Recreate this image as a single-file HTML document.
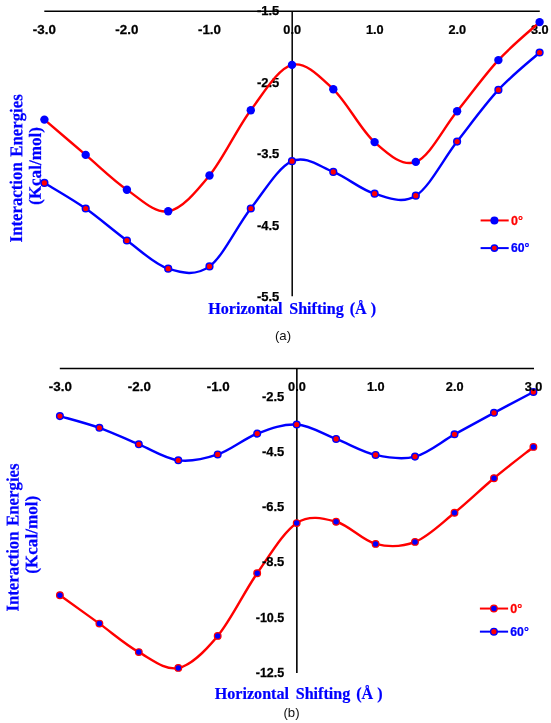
<!DOCTYPE html><html><head><meta charset="utf-8"><title>Interaction Energies</title>
<style>html,body{margin:0;padding:0;background:#fff}svg{display:block}.t{font-family:"Liberation Sans",sans-serif;font-weight:bold;font-size:13px;fill:#000;stroke:#000;stroke-width:0.25px}.s{font-family:"Liberation Serif",serif;font-weight:bold;fill:#0000ff;stroke:#0000ff;stroke-width:0.2px}.c{font-family:"Liberation Sans",sans-serif;font-size:12px;fill:#111}</style></head><body>
<svg width="551" height="723" viewBox="0 0 551 723">
<rect width="551" height="723" fill="#fff"/>
<line x1="44.3" y1="11.25" x2="539.8" y2="11.25" stroke="#000" stroke-width="1.5"/>
<line x1="292.2" y1="11" x2="292.2" y2="296.2" stroke="#000" stroke-width="1.5"/>
<text class="t" transform="translate(44.4,33.8) scale(1.03,1)" text-anchor="middle">-3.0</text>
<text class="t" transform="translate(126.9,33.8) scale(1.03,1)" text-anchor="middle">-2.0</text>
<text class="t" transform="translate(209.5,33.8) scale(1.03,1)" text-anchor="middle">-1.0</text>
<text class="t" transform="translate(292.2,33.8) scale(0.98,1)" text-anchor="middle">0.0</text>
<text class="t" transform="translate(374.8,33.8) scale(0.98,1)" text-anchor="middle">1.0</text>
<text class="t" transform="translate(457.3,33.8) scale(0.98,1)" text-anchor="middle">2.0</text>
<text class="t" transform="translate(539.8,33.8) scale(0.98,1)" text-anchor="middle">3.0</text>
<text class="t" transform="translate(279.3,14.9) scale(1.0,1)" text-anchor="end">-1.5</text>
<text class="t" transform="translate(279.3,86.5) scale(1.0,1)" text-anchor="end">-2.5</text>
<text class="t" transform="translate(279.3,158.0) scale(1.0,1)" text-anchor="end">-3.5</text>
<text class="t" transform="translate(279.3,229.5) scale(1.0,1)" text-anchor="end">-4.5</text>
<text class="t" transform="translate(279.3,301.1) scale(1.0,1)" text-anchor="end">-5.5</text>
<path d="M44.40,182.90 C51.28,187.17 71.91,198.90 85.67,208.50 C99.43,218.10 113.18,230.47 126.94,240.50 C140.70,250.53 154.45,264.38 168.21,268.70 C181.97,273.02 195.72,276.43 209.48,266.40 C223.24,256.37 236.99,226.03 250.75,208.50 C264.51,190.97 278.26,167.30 292.02,161.20 C305.78,155.10 319.53,166.48 333.29,171.90 C347.05,177.32 360.80,189.73 374.56,193.70 C388.32,197.67 402.07,204.38 415.83,195.70 C429.59,187.02 443.34,159.23 457.10,141.60 C470.86,123.97 484.61,104.75 498.37,89.90 C512.13,75.05 532.76,58.73 539.64,52.50" fill="none" stroke="#0000ff" stroke-width="2.4" stroke-linecap="round" stroke-linejoin="round"/>
<path d="M44.40,119.60 C51.28,125.48 71.91,143.22 85.67,154.90 C99.43,166.58 113.18,180.30 126.94,189.70 C140.70,199.10 154.45,213.67 168.21,211.30 C181.97,208.93 195.72,192.35 209.48,175.50 C223.24,158.65 236.99,128.63 250.75,110.20 C264.51,91.77 278.26,68.38 292.02,64.90 C305.78,61.42 319.53,76.43 333.29,89.30 C347.05,102.17 360.80,130.00 374.56,142.10 C388.32,154.20 402.07,167.03 415.83,161.90 C429.59,156.77 443.34,128.27 457.10,111.30 C470.86,94.33 484.61,74.97 498.37,60.10 C512.13,45.23 532.76,28.43 539.64,22.10" fill="none" stroke="#ff0000" stroke-width="2.4" stroke-linecap="round" stroke-linejoin="round"/>
<circle cx="44.4" cy="182.9" r="3.35" fill="#ff0000" stroke="#0000ff" stroke-width="1.5"/>
<circle cx="85.7" cy="208.5" r="3.35" fill="#ff0000" stroke="#0000ff" stroke-width="1.5"/>
<circle cx="126.9" cy="240.5" r="3.35" fill="#ff0000" stroke="#0000ff" stroke-width="1.5"/>
<circle cx="168.2" cy="268.7" r="3.35" fill="#ff0000" stroke="#0000ff" stroke-width="1.5"/>
<circle cx="209.5" cy="266.4" r="3.35" fill="#ff0000" stroke="#0000ff" stroke-width="1.5"/>
<circle cx="250.8" cy="208.5" r="3.35" fill="#ff0000" stroke="#0000ff" stroke-width="1.5"/>
<circle cx="292.0" cy="161.2" r="3.35" fill="#ff0000" stroke="#0000ff" stroke-width="1.5"/>
<circle cx="333.3" cy="171.9" r="3.35" fill="#ff0000" stroke="#0000ff" stroke-width="1.5"/>
<circle cx="374.6" cy="193.7" r="3.35" fill="#ff0000" stroke="#0000ff" stroke-width="1.5"/>
<circle cx="415.8" cy="195.7" r="3.35" fill="#ff0000" stroke="#0000ff" stroke-width="1.5"/>
<circle cx="457.1" cy="141.6" r="3.35" fill="#ff0000" stroke="#0000ff" stroke-width="1.5"/>
<circle cx="498.4" cy="89.9" r="3.35" fill="#ff0000" stroke="#0000ff" stroke-width="1.5"/>
<circle cx="539.6" cy="52.5" r="3.35" fill="#ff0000" stroke="#0000ff" stroke-width="1.5"/>
<circle cx="44.4" cy="119.6" r="4.2" fill="#0000ff"/>
<circle cx="85.7" cy="154.9" r="4.2" fill="#0000ff"/>
<circle cx="126.9" cy="189.7" r="4.2" fill="#0000ff"/>
<circle cx="168.2" cy="211.3" r="4.2" fill="#0000ff"/>
<circle cx="209.5" cy="175.5" r="4.2" fill="#0000ff"/>
<circle cx="250.8" cy="110.2" r="4.2" fill="#0000ff"/>
<circle cx="292.0" cy="64.9" r="4.2" fill="#0000ff"/>
<circle cx="333.3" cy="89.3" r="4.2" fill="#0000ff"/>
<circle cx="374.6" cy="142.1" r="4.2" fill="#0000ff"/>
<circle cx="415.8" cy="161.9" r="4.2" fill="#0000ff"/>
<circle cx="457.1" cy="111.3" r="4.2" fill="#0000ff"/>
<circle cx="498.4" cy="60.1" r="4.2" fill="#0000ff"/>
<circle cx="539.6" cy="22.1" r="4.2" fill="#0000ff"/>
<line x1="480.6" y1="220.45" x2="508.7" y2="220.45" stroke="#ff0000" stroke-width="2.0"/>
<circle cx="494.4" cy="220.45" r="4.05" fill="#0000ff"/>
<text class="t" transform="translate(511,224.5) scale(0.96,1)" style="fill:#ff0000;stroke:#ff0000">0°</text>
<line x1="480.6" y1="248.1" x2="508.7" y2="248.1" stroke="#0000ff" stroke-width="2.0"/>
<circle cx="494.4" cy="248.1" r="3.15" fill="#ff0000" stroke="#0000ff" stroke-width="1.45"/>
<text class="t" transform="translate(511,252.2) scale(0.94,1)" style="fill:#0000ff;stroke:#0000ff">60°</text>
<text class="s" font-size="16.1" transform="translate(208.3,314) scale(1,1.06)"><tspan x="0">Horizontal</tspan> <tspan x="80.9">Shifting</tspan> <tspan x="141.4">(Å )</tspan></text>
<text class="s" font-size="16.8" transform="translate(22.0,242.4) rotate(-89.9) scale(1,1.07)"><tspan x="0">Interaction</tspan> <tspan x="85.7">Energies</tspan></text>
<text class="s" font-size="16.5" text-anchor="middle" transform="translate(40.9,166.0) rotate(-89.9) scale(1.04,1.06)">(Kcal/mol)</text>
<text class="c" transform="translate(283,339.8) scale(1.1,1)" text-anchor="middle">(a)</text>
<line x1="59.8" y1="368.5" x2="534" y2="368.5" stroke="#000" stroke-width="1.5"/>
<line x1="296.85" y1="368.3" x2="296.85" y2="673" stroke="#000" stroke-width="1.6"/>
<path d="M59.90,595.25 C66.48,599.98 86.21,614.17 99.36,623.65 C112.51,633.13 125.67,644.77 138.82,652.15 C151.97,659.53 165.13,670.65 178.28,667.95 C191.43,665.25 204.59,651.73 217.74,635.95 C230.89,620.17 244.05,592.05 257.20,573.25 C270.35,554.45 283.51,531.73 296.66,523.15 C309.81,514.57 322.97,518.30 336.12,521.75 C349.27,525.20 362.43,540.50 375.58,543.85 C388.73,547.20 401.89,547.03 415.04,541.85 C428.19,536.67 441.35,523.35 454.50,512.75 C467.65,502.15 480.81,489.22 493.96,478.25 C507.11,467.28 526.84,452.17 533.42,446.95" fill="none" stroke="#ff0000" stroke-width="2.4" stroke-linecap="round" stroke-linejoin="round"/>
<path d="M59.90,416.15 C66.48,418.10 86.21,423.15 99.36,427.85 C112.51,432.55 125.67,438.93 138.82,444.35 C151.97,449.77 165.13,458.67 178.28,460.35 C191.43,462.03 204.59,458.90 217.74,454.45 C230.89,450.00 244.05,438.63 257.20,433.65 C270.35,428.67 283.51,423.67 296.66,424.55 C309.81,425.43 322.97,433.88 336.12,438.95 C349.27,444.02 362.43,452.00 375.58,454.95 C388.73,457.90 401.89,460.08 415.04,456.65 C428.19,453.22 441.35,441.65 454.50,434.35 C467.65,427.05 480.81,419.92 493.96,412.85 C507.11,405.78 526.84,395.43 533.42,391.95" fill="none" stroke="#0000ff" stroke-width="2.4" stroke-linecap="round" stroke-linejoin="round"/>
<circle cx="59.9" cy="595.2" r="3.35" fill="#0000ff" stroke="#ff0000" stroke-width="1.2"/>
<circle cx="99.4" cy="623.6" r="3.35" fill="#0000ff" stroke="#ff0000" stroke-width="1.2"/>
<circle cx="138.8" cy="652.1" r="3.35" fill="#0000ff" stroke="#ff0000" stroke-width="1.2"/>
<circle cx="178.3" cy="667.9" r="3.35" fill="#0000ff" stroke="#ff0000" stroke-width="1.2"/>
<circle cx="217.7" cy="635.9" r="3.35" fill="#0000ff" stroke="#ff0000" stroke-width="1.2"/>
<circle cx="257.2" cy="573.2" r="3.35" fill="#0000ff" stroke="#ff0000" stroke-width="1.2"/>
<circle cx="296.7" cy="523.1" r="3.35" fill="#0000ff" stroke="#ff0000" stroke-width="1.2"/>
<circle cx="336.1" cy="521.8" r="3.35" fill="#0000ff" stroke="#ff0000" stroke-width="1.2"/>
<circle cx="375.6" cy="543.9" r="3.35" fill="#0000ff" stroke="#ff0000" stroke-width="1.2"/>
<circle cx="415.0" cy="541.9" r="3.35" fill="#0000ff" stroke="#ff0000" stroke-width="1.2"/>
<circle cx="454.5" cy="512.8" r="3.35" fill="#0000ff" stroke="#ff0000" stroke-width="1.2"/>
<circle cx="494.0" cy="478.2" r="3.35" fill="#0000ff" stroke="#ff0000" stroke-width="1.2"/>
<circle cx="533.4" cy="446.9" r="3.35" fill="#0000ff" stroke="#ff0000" stroke-width="1.2"/>
<circle cx="59.9" cy="416.1" r="3.3" fill="#ff0000" stroke="#0000ff" stroke-width="1.45"/>
<circle cx="99.4" cy="427.8" r="3.3" fill="#ff0000" stroke="#0000ff" stroke-width="1.45"/>
<circle cx="138.8" cy="444.3" r="3.3" fill="#ff0000" stroke="#0000ff" stroke-width="1.45"/>
<circle cx="178.3" cy="460.3" r="3.3" fill="#ff0000" stroke="#0000ff" stroke-width="1.45"/>
<circle cx="217.7" cy="454.4" r="3.3" fill="#ff0000" stroke="#0000ff" stroke-width="1.45"/>
<circle cx="257.2" cy="433.6" r="3.3" fill="#ff0000" stroke="#0000ff" stroke-width="1.45"/>
<circle cx="296.7" cy="424.5" r="3.3" fill="#ff0000" stroke="#0000ff" stroke-width="1.45"/>
<circle cx="336.1" cy="438.9" r="3.3" fill="#ff0000" stroke="#0000ff" stroke-width="1.45"/>
<circle cx="375.6" cy="454.9" r="3.3" fill="#ff0000" stroke="#0000ff" stroke-width="1.45"/>
<circle cx="415.0" cy="456.6" r="3.3" fill="#ff0000" stroke="#0000ff" stroke-width="1.45"/>
<circle cx="454.5" cy="434.3" r="3.3" fill="#ff0000" stroke="#0000ff" stroke-width="1.45"/>
<circle cx="494.0" cy="412.8" r="3.3" fill="#ff0000" stroke="#0000ff" stroke-width="1.45"/>
<circle cx="533.4" cy="391.9" r="3.3" fill="#ff0000" stroke="#0000ff" stroke-width="1.45"/>
<text class="t" transform="translate(60.4,391.2) scale(1.03,1)" text-anchor="middle">-3.0</text>
<text class="t" transform="translate(139.3,391.2) scale(1.03,1)" text-anchor="middle">-2.0</text>
<text class="t" transform="translate(218.2,391.2) scale(1.03,1)" text-anchor="middle">-1.0</text>
<text class="t" transform="translate(296.9,391.2) scale(0.98,1)" text-anchor="middle">0.0</text>
<text class="t" transform="translate(375.8,391.2) scale(0.98,1)" text-anchor="middle">1.0</text>
<text class="t" transform="translate(454.7,391.2) scale(0.98,1)" text-anchor="middle">2.0</text>
<text class="t" transform="translate(533.6,391.2) scale(0.98,1)" text-anchor="middle">3.0</text>
<text class="t" transform="translate(284.3,400.7) scale(1.0,1)" text-anchor="end">-2.5</text>
<text class="t" transform="translate(284.3,455.9) scale(1.0,1)" text-anchor="end">-4.5</text>
<text class="t" transform="translate(284.3,511.1) scale(1.0,1)" text-anchor="end">-6.5</text>
<text class="t" transform="translate(284.3,566.3) scale(1.0,1)" text-anchor="end">-8.5</text>
<text class="t" transform="translate(284.3,621.5) scale(0.966,1)" text-anchor="end">-10.5</text>
<text class="t" transform="translate(284.3,676.7) scale(0.966,1)" text-anchor="end">-12.5</text>
<line x1="479.9" y1="608.55" x2="508.1" y2="608.55" stroke="#ff0000" stroke-width="2.0"/>
<circle cx="493.9" cy="608.55" r="3.35" fill="#0000ff" stroke="#ff0000" stroke-width="1.2"/>
<text class="t" transform="translate(510.3,612.5) scale(0.96,1)" style="fill:#ff0000;stroke:#ff0000">0°</text>
<line x1="479.9" y1="631.65" x2="508.1" y2="631.65" stroke="#0000ff" stroke-width="2.0"/>
<circle cx="493.9" cy="631.65" r="3.3" fill="#ff0000" stroke="#0000ff" stroke-width="1.45"/>
<text class="t" transform="translate(510.3,635.8) scale(0.94,1)" style="fill:#0000ff;stroke:#0000ff">60°</text>
<text class="s" font-size="16.1" transform="translate(214.8,698.6) scale(1,1.06)"><tspan x="0">Horizontal</tspan> <tspan x="80.9">Shifting</tspan> <tspan x="141.4">(Å )</tspan></text>
<text class="s" font-size="16.8" transform="translate(18.4,611.6) rotate(-89.9) scale(1,1.07)"><tspan x="0">Interaction</tspan> <tspan x="85.7">Energies</tspan></text>
<text class="s" font-size="16.5" text-anchor="middle" transform="translate(37.3,534.8) rotate(-89.9) scale(1.04,1.06)">(Kcal/mol)</text>
<text class="c" transform="translate(291.5,716.5) scale(1.1,1)" text-anchor="middle">(b)</text>
</svg></body></html>
